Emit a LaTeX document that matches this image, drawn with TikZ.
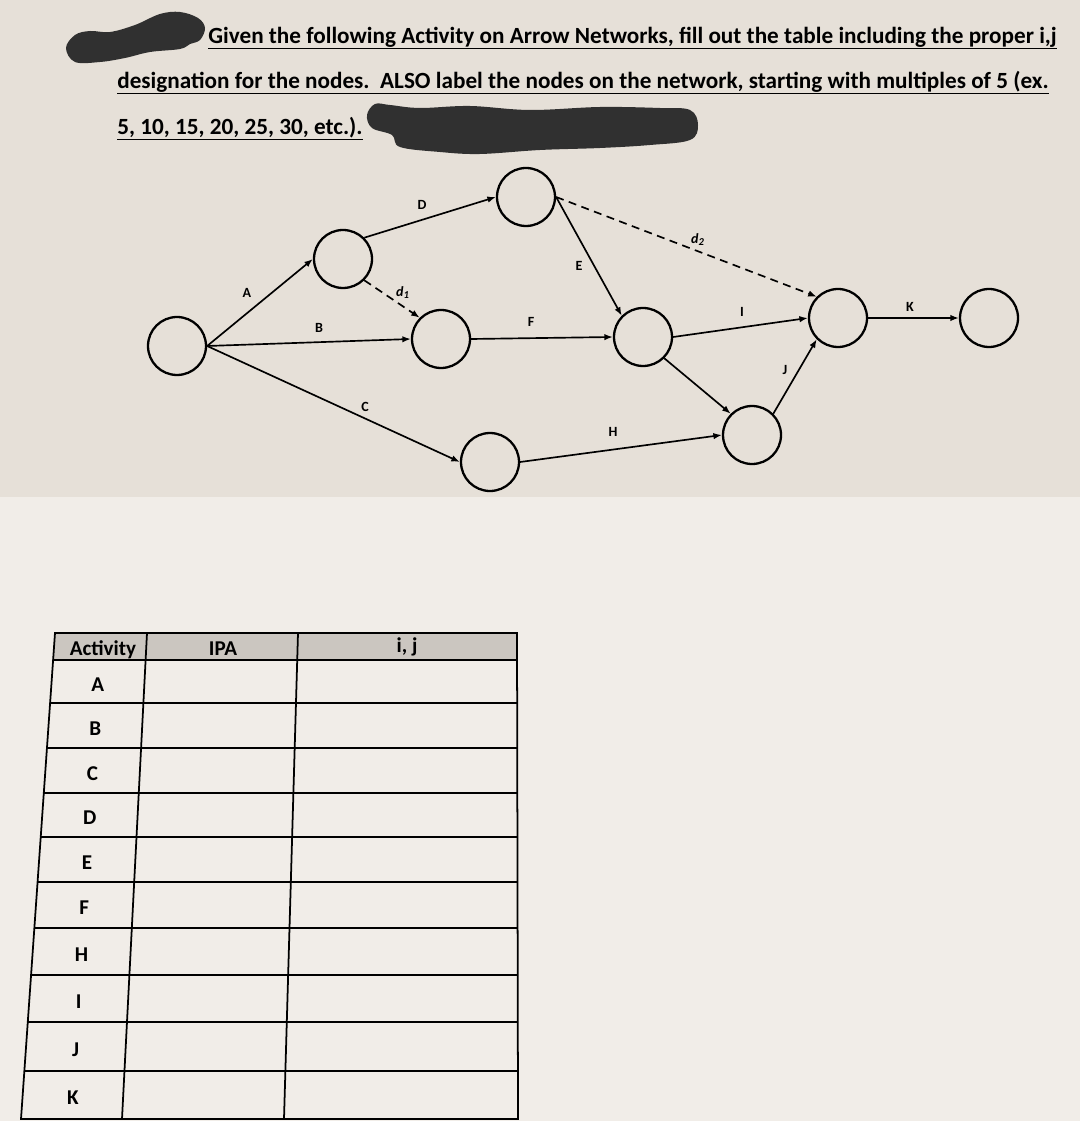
\documentclass[tikz,border=0pt]{standalone}
\usepackage{fontspec}
\setmainfont{Carlito}
\usetikzlibrary{arrows.meta,calc}

\definecolor{paper}{RGB}{230,224,216}
\definecolor{paperlow}{RGB}{241,237,232}
\definecolor{hdrgray}{RGB}{203,198,192}
\definecolor{blot}{RGB}{48,48,48}

\tikzset{
  aoa/.style={circle, draw, line width=1.3pt, minimum size=1.16cm, inner sep=0pt},
  act/.style={-{Latex[length=1.7mm,width=1.3mm]}, line width=0.95pt},
  dummy/.style={act, dash pattern=on 1.6mm off 1.1mm},
  lbl/.style={font=\fontsize{8}{9}\selectfont\bfseries, inner sep=0pt},
  cell/.style={font=\fontsize{12}{14}\selectfont\bfseries, inner sep=0pt},
  headline/.style={font=\fontsize{13.2}{15}\selectfont\bfseries, anchor=base west, inner sep=0pt},
  grid/.style={line width=1pt}
}

\begin{document}
\begin{tikzpicture}[x=0.02cm, y=-0.02cm]
    \useasboundingbox (0,0) rectangle (1080,1121);
    % paper
    \fill[paper] (0,0) rectangle (1080,497);
    \fill[paperlow] (0,497) rectangle (1080,1121);

    % blacked out parts
    \fill[blot] plot[smooth cycle, tension=0.6] coordinates {(66,48) (75,35) (90,31) (110,32) (135,25) (160,14) (180,12) (198,18) (205,28) (200,40) (190,44) (180,49) (150,52) (125,58) (100,62) (75,62)};
    \fill[blot] plot[smooth cycle, tension=0.6] coordinates {(367,115) (375,104) (390,105) (420,108) (470,106) (530,110) (600,107) (660,108) (690,110) (698,125) (690,140) (650,145) (600,148) (540,150) (480,154) (440,152) (400,147) (392,135) (372,128)};

    % heading
    \node[headline] (t1) at (208,44) {Given the following Activity on Arrow Networks, fill out the table including the proper i,j};
    \node[headline] (t2) at (117,89) {designation for the nodes.\ \ ALSO label the nodes on the network, starting with multiples of 5 (ex.};
    \node[headline] (t3) at (117,135) {5, 10, 15, 20, 25, 30, etc.).};
    \foreach \t in {t1,t2,t3}
        \draw[line width=1pt] ([yshift=-2.5pt]\t.base west) -- ([yshift=-2.5pt]\t.base east);

    % network
    \node[aoa] (n1) at (177,346) {};
    \node[aoa] (n2) at (343,259) {};
    \node[aoa] (n3) at (526,197) {};
    \node[aoa] (n4) at (441,339) {};
    \node[aoa] (n5) at (490,462) {};
    \node[aoa] (n6) at (643,337) {};
    \node[aoa] (n7) at (752,435) {};
    \node[aoa] (n8) at (838,318) {};
    \node[aoa] (n9) at (989,318) {};

    \draw[act] (n1.east) -- (n2.west);
    \draw[act] (n1.east) -- (n4.west);
    \draw[act] (n1.east) -- (n5.west);
    \draw[act] (n2.north east) -- (n3.west);
    \draw[dummy] (n2.south east) -- (n4.north west);
    \draw[act] (n3.east) -- (n6.north west);
    \draw[dummy] (n3.east) -- (n8.north west);
    \draw[act] (n4.east) -- (n6.west);
    \draw[act] (n5.east) -- (n7.west);
    \draw[act] (n6.east) -- (n8.west);
    \draw[act] (n6.south east) -- (n7.north west);
    \draw[act] (n7.north east) -- (n8.south west);
    \draw[act] (n8.east) -- (n9.west);

    \node[lbl] (lA) at (247,293) {A};
    \node[lbl] (lB) at (319,328) {B};
    \node[lbl] (lC) at (365,407) {C};
    \node[lbl] (lD) at (422,205) {D};
    \node[lbl] (ld1) at (403,293) {\itshape d\textsubscript{1}};
    \node[lbl] (lE) at (579,266) {E};
    \node[lbl] (lF) at (531,322) {F};
    \node[lbl] (ld2) at (698,240) {\itshape d\textsubscript{2}};
    \node[lbl] (lH) at (613,432) {H};
    \node[lbl] (lI) at (742,312) {I};
    \node[lbl] (lJ) at (785,370) {J};
    \node[lbl] (lK) at (910,307) {K};

    % table (photographed a little skewed)
    \coordinate (TL) at (55,633);
    \coordinate (BL) at (21,1119);
    \coordinate (C1T) at (147,633);
    \coordinate (C1B) at (122,1119);
    \coordinate (C2T) at (298,633);
    \coordinate (C2B) at (284,1119);
    \coordinate (TR) at (517,633);
    \coordinate (BR) at (518,1119);

    \fill[hdrgray] (TL) -- (TR) -- ($(TR)!0.0556!(BR)$) -- ($(TL)!0.0556!(BL)$) -- cycle;
    \draw[grid] (TL) -- (TR) -- (BR) -- (BL) -- cycle;
    \draw[grid] (C1T) -- (C1B);
    \draw[grid] (C2T) -- (C2B);
    \foreach \r in {660,703,748,793,837,882,928,975,1022,1071}
        \draw[grid] ($(TL)!{(\r-633)/486}!(BL)$) -- ($(TR)!{(\r-633)/486}!(BR)$);

    \node[cell] (hAct) at (103,650) {Activity};
    \node[cell] (hIPA) at (223,649) {IPA};
    \node[cell] (hij) at (407,647) {i, j};
    \foreach \a/\top/\bot in {A/660/703, B/703/748, C/748/793, D/793/837, E/837/882, F/882/928, H/928/975, I/975/1022, J/1022/1071, K/1071/1119} {
        \pgfmathsetmacro\ym{(\top+\bot)/2+3}
        \pgfmathsetmacro\xm{101-29.5*(\ym-633)/486}
        \node[cell] (act\a) at (\xm,\ym) {\a};
    }
\end{tikzpicture}
\end{document}
